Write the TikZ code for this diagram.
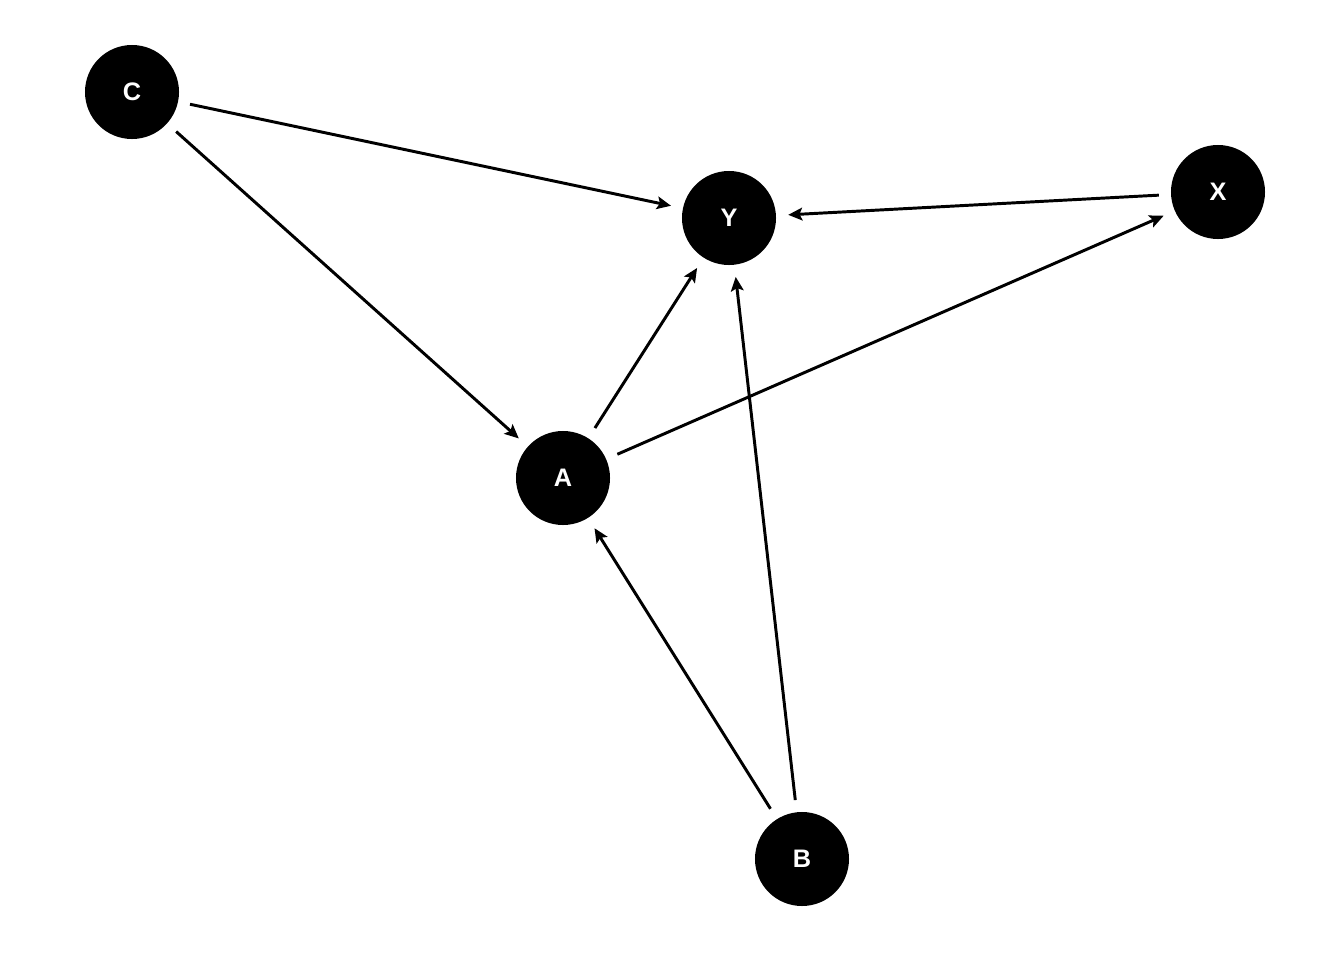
\documentclass[tikz,border=0pt]{standalone}
\usepackage{fontspec}
\setmainfont{Liberation Sans}
\usetikzlibrary{arrows.meta}
\begin{document}
\begin{tikzpicture}[x=0.025cm,y=-0.025cm,
  vnode/.style={circle,fill=black,minimum size=2.35cm,inner sep=0pt,text=white,font=\bfseries\fontsize{18}{20}\selectfont},
  edge/.style={-{Stealth[length=10pt,width=9pt,inset=2pt]},line width=2.1pt,shorten <=0.3cm,shorten >=0.3cm}]
\useasboundingbox[fill=white] (0,0) rectangle (1344,960);
\node[vnode] (C) at (132,92) {C};
\node[vnode] (Y) at (729,218) {Y};
\node[vnode] (X) at (1218,192) {X};
\node[vnode] (A) at (563,478) {A};
\node[vnode] (B) at (802,859) {B};
\draw[edge] (C) -- (Y);
\draw[edge] (C) -- (A);
\draw[edge] (X) -- (Y);
\draw[edge] (A) -- (Y);
\draw[edge] (A) -- (X);
\draw[edge] (B) -- (A);
\draw[edge] (B) -- (Y);
\end{tikzpicture}
\end{document}
